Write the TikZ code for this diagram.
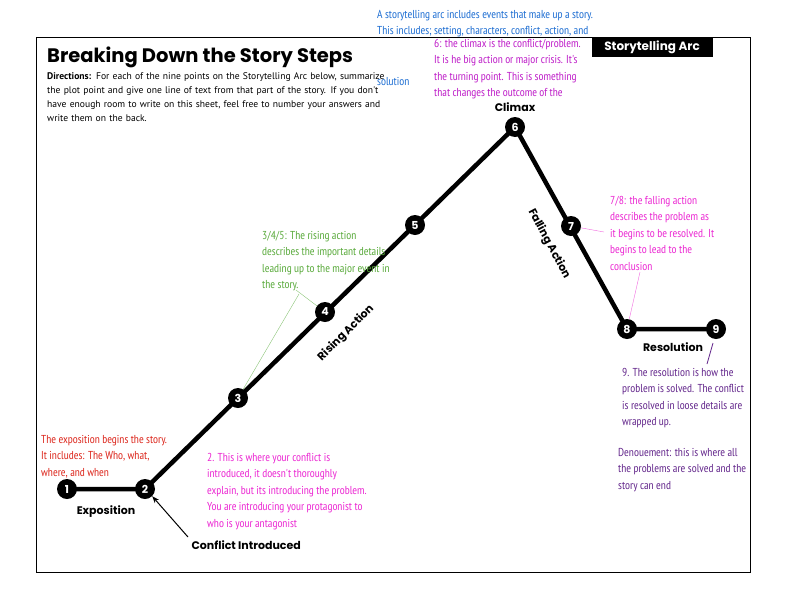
\documentclass[tikz,border=0pt]{standalone}
\usepackage{fontspec}
\setmainfont{Poppins}
\newfontfamily\notefont{PT Sans Narrow}
\newfontfamily\plainfont{PT Sans}
\usetikzlibrary{arrows.meta}
\usetikzlibrary{positioning}
\definecolor{noteblue}{RGB}{30,110,210}
\definecolor{notemag}{RGB}{190,30,200}
\definecolor{notepink}{RGB}{235,40,210}
\definecolor{notegreen}{RGB}{90,170,60}
\definecolor{notered}{RGB}{220,40,30}
\definecolor{notepurple}{RGB}{100,40,140}
\tikzset{
  point/.style={circle, fill=black, minimum size=20pt, inner sep=0pt, text=white, font=\bfseries\fontsize{11}{11}\selectfont},
  arc/.style={line width=4.5pt},
  note/.style={align=left, anchor=north west, inner sep=0pt, font=\notefont\fontsize{11.5}{16.5}\selectfont},
  stage/.style={font=\fontsize{11}{11}\selectfont\bfseries},
  leader/.style={line width=0.4pt}
}
\begin{document}
\begin{tikzpicture}[x=1pt,y=-1pt]
    \useasboundingbox (0,0) rectangle (786,608);
    \draw[line width=0.8pt] (36,37) rectangle (750,572);

    % heading
    \node[anchor=west, inner sep=0pt, font=\bfseries\fontsize{19.5}{19.5}\selectfont] (title) at (47,57) {Breaking Down the Story Steps};
    \node[note, font=\plainfont\fontsize{9.6}{14}\selectfont, text width=345pt] (dir) at (47,72)
        {\textbf{Directions:} For each of the nine points on the Storytelling Arc below, summarize the plot point and give one line of text from that part of the story. If you don't have enough room to write on this sheet, feel free to number your answers and write them on the back.};
    \node[fill=black, text=white, font=\bfseries\fontsize{12}{12}\selectfont, minimum height=20pt, minimum width=121pt, inner sep=0pt] (badge) at (652,47) {Storytelling Arc};

    % the arc
    \foreach \n/\x/\y in {1/67/489, 2/145/489, 3/238/398, 4/325/312, 5/415/225, 6/515/127, 7/571/226, 8/627/329, 9/716/329} {
        \coordinate (c\n) at (\x,\y);
    }
    \draw[arc] (c1) -- (c2) -- (c6) -- (c8) -- (c9);
    \foreach \n in {1,...,9} {
        \node[point] (p\n) at (c\n) {\n};
    }

    % stage labels
    \node[stage, below=3pt of p1, xshift=39pt] (expo) {Exposition};
    \node[stage, rotate=45] (rising) at (346,333) {Rising Action};
    \node[stage, rotate=-62] (falling) at (549,244) {Falling Action};
    \node[stage, above=2pt of p6] (climax) {Climax};
    \node[stage] (reso) at (673,347) {Resolution};
    \node[stage, anchor=west] (conflict) at (188,545) {Conflict Introduced};
    \draw[-{Stealth[length=7pt]}, line width=1pt] (conflict.north west) -- (p2.south east);

    % notes
    \node[note, text=noteblue] (arcnote) at (377,10) {A storytelling arc includes events that make up a story.\\This includes; setting, characters, conflict, action, and};
    \node[note, text=noteblue] (solution) at (377,77) {solution};
    \node[note, text=notemag] (climaxnote) at (434,39) {6: the climax is the conflict/problem.\\It is he big action or major crisis. It's\\the turning point. This is something\\that changes the outcome of the};
    \node[note, text=notegreen] (risingnote) at (262,231) {3/4/5: The rising action\\describes the important details\\leading up to the major event in\\the story.};
    \node[note, text=notered] (exponote) at (41,435) {The exposition begins the story.\\It includes: The Who, what,\\where, and when};
    \node[note, text=notepink] (conflictnote) at (207,453) {2. This is where your conflict is\\introduced, it doesn't thoroughly\\explain, but its introducing the problem.\\You are introducing your protagonist to\\who is your antagonist};
    \node[note, text=notepink] (fallingnote) at (610,196) {7/8: the falling action\\describes the problem as\\it begins to be resolved. It\\begins to lead to the\\conclusion};
    \node[note, text=notepurple] (resonote) at (622,368) {9. The resolution is how the\\problem is solved. The conflict\\is resolved in loose details are\\wrapped up.};
    \node[note, text=notepurple] (denote) at (618,448) {Denouement: this is where all\\the problems are solved and the\\story can end};

    % leaders
    \draw[leader, notegreen!70] (296,290) -- (p4);
    \draw[leader, notegreen!70] (299,294) -- (p3);
    \draw[leader, notepink!70] (p7) -- (604,232);
    \draw[leader, notepink!70] (640,272) -- (p8);
    \draw[leader, notepurple, line width=0.8pt] (713,343) -- (707,364);

\end{tikzpicture}
\end{document}
